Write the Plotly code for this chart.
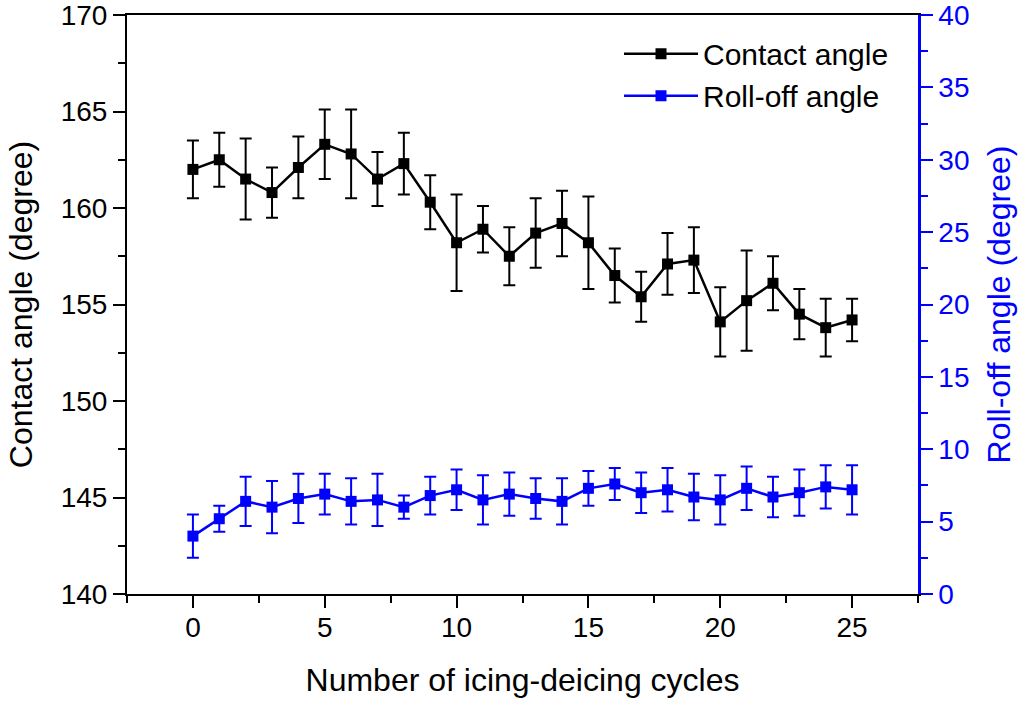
import plotly.graph_objects as go

cycles = list(range(26))
contact_angle = [162.0, 162.5, 161.5, 160.8, 162.1, 163.3, 162.8, 161.5, 162.3, 160.3,
                 158.2, 158.9, 157.5, 158.7, 159.2, 158.2, 156.5, 155.4, 157.1, 157.3,
                 154.1, 155.2, 156.1, 154.5, 153.8, 154.2]
contact_err = [1.5, 1.4, 2.1, 1.3, 1.6, 1.8, 2.3, 1.4, 1.6, 1.4,
               2.5, 1.2, 1.5, 1.8, 1.7, 2.4, 1.4, 1.3, 1.6, 1.7,
               1.8, 2.6, 1.4, 1.3, 1.5, 1.1]
rolloff_angle = [4.0, 5.2, 6.4, 6.0, 6.6, 6.9, 6.4, 6.5, 6.0, 6.8,
                 7.2, 6.5, 6.9, 6.6, 6.4, 7.3, 7.6, 7.0, 7.2, 6.7,
                 6.5, 7.3, 6.7, 7.0, 7.4, 7.2]
rolloff_err = [1.5, 0.9, 1.7, 1.8, 1.7, 1.4, 1.6, 1.8, 0.8, 1.3,
               1.4, 1.7, 1.5, 1.4, 1.6, 1.2, 1.1, 1.4, 1.5, 1.6,
               1.7, 1.5, 1.4, 1.6, 1.5, 1.7]

FONT = "Liberation Sans, Arial, sans-serif"
BLUE = "#0000FF"

fig = go.Figure()
fig.add_trace(go.Scatter(
    x=cycles, y=contact_angle, name="Contact angle", mode="lines+markers",
    line=dict(color="black", width=2.5),
    marker=dict(symbol="square", size=11, color="black"),
    error_y=dict(type="data", array=contact_err, visible=True, color="black",
                 thickness=2, width=6),
))
fig.add_trace(go.Scatter(
    x=cycles, y=rolloff_angle, name="Roll-off angle", mode="lines+markers",
    yaxis="y2",
    line=dict(color=BLUE, width=2.5),
    marker=dict(symbol="square", size=11, color=BLUE),
    error_y=dict(type="data", array=rolloff_err, visible=True, color=BLUE,
                 thickness=2, width=6),
))

fig.update_layout(
    width=1020, height=703,
    margin=dict(l=127, r=102, t=15, b=109, autoexpand=False),
    paper_bgcolor="white", plot_bgcolor="white",
    font=dict(family=FONT, size=28, color="black"),
    showlegend=True,
    legend=dict(x=0.622, y=0.978, xanchor="left", yanchor="top",
                bgcolor="rgba(0,0,0,0)", font=dict(size=30, family=FONT),
                tracegroupgap=0, itemwidth=74),
    xaxis=dict(
        range=[-2.5, 27.5], tickmode="array", tickvals=[0, 5, 10, 15, 20, 25],
        showgrid=False, zeroline=False, automargin=False,
        showline=True, linecolor="black", linewidth=2, mirror=True,
        ticks="outside", ticklen=12, tickwidth=2, tickcolor="black",
        minor=dict(dtick=2.5, tick0=0, ticks="outside", ticklen=7, tickwidth=2, tickcolor="black"),
        ticklabelstandoff=-5,
        tickfont=dict(size=28),
        title=dict(text="Number of icing-deicing cycles", font=dict(size=32), standoff=27),
    ),
    yaxis=dict(
        range=[140, 170], tickmode="array", tickvals=[140, 145, 150, 155, 160, 165, 170],
        showgrid=False, zeroline=False, automargin=False,
        showline=True, linecolor="black", linewidth=2,
        ticks="outside", ticklen=12, tickwidth=2, tickcolor="black",
        minor=dict(dtick=2.5, tick0=140, ticks="outside", ticklen=7, tickwidth=2, tickcolor="black"),
        tickfont=dict(size=28), ticklabeloverflow="allow",
        title=dict(text="Contact angle (degree)", font=dict(size=32), standoff=18),
    ),
    yaxis2=dict(
        range=[0, 40], tickmode="array", tickvals=[0, 5, 10, 15, 20, 25, 30, 35, 40],
        overlaying="y", side="right",
        showgrid=False, zeroline=False, automargin=False,
        showline=True, linecolor=BLUE, linewidth=2.5,
        ticks="outside", ticklen=12, tickwidth=2, tickcolor=BLUE,
        minor=dict(dtick=2.5, tick0=0, ticks="outside", ticklen=7, tickwidth=2, tickcolor=BLUE),
        tickfont=dict(size=28, color=BLUE), ticklabeloverflow="allow",
        title=dict(text="Roll-off angle (degree)", font=dict(size=32, color=BLUE), standoff=20),
    ),
)

fig.write_html("out.html")
